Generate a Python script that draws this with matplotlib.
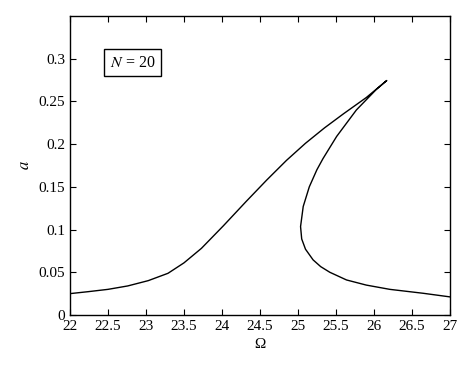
import matplotlib
matplotlib.use("Agg")
import matplotlib.pyplot as plt

omega = [22.0, 22.24, 22.5, 22.76, 23.03, 23.29, 23.5, 23.73, 24.02, 24.32, 24.59,
         24.85, 25.1, 25.35, 25.6, 25.9, 26.17,
         26.03, 25.77, 25.51, 25.33, 25.25, 25.15, 25.07, 25.035, 25.05, 25.1, 25.2,
         25.3, 25.42, 25.64, 25.9, 26.21, 26.65, 27.0]
amp = [0.025, 0.0273, 0.030, 0.034, 0.0402, 0.0488, 0.061, 0.078, 0.1045, 0.133, 0.158,
       0.181, 0.201, 0.219, 0.2355, 0.2545, 0.2745,
       0.2638, 0.240, 0.209, 0.183, 0.170, 0.150, 0.127, 0.1035, 0.089, 0.077, 0.0645,
       0.0566, 0.050, 0.041, 0.035, 0.030, 0.0254, 0.0212]

xticks = [22, 22.5, 23, 23.5, 24, 24.5, 25, 25.5, 26, 26.5, 27]
yticks = [0, 0.05, 0.1, 0.15, 0.2, 0.25, 0.3]

plt.rcParams['font.family'] = ['Liberation Serif', 'DejaVu Serif']
plt.rcParams['mathtext.fontset'] = 'stix'

fig = plt.figure(figsize=(4.74, 3.77), dpi=100)
ax = fig.add_axes([0.1477, 0.1645, 0.8013, 0.7931])
ax.plot(omega, amp, color='black', lw=1.0, solid_joinstyle='round')
ax.set_xlim(22, 27)
ax.set_ylim(0, 0.35)
ax.set_xticks(xticks)
ax.set_xticklabels([f"{t:g}" for t in xticks])
ax.set_yticks(yticks)
ax.set_yticklabels([f"{t:g}" for t in yticks])
ax.tick_params(direction='in', top=True, right=True, labelsize=11, length=4, width=0.8)
for s in ax.spines.values():
    s.set_linewidth(1.0)
ax.set_xlabel('Ω', fontsize=11)
ax.set_ylabel('$a$', fontsize=12, labelpad=4)
ax.text(0.105, 0.83, '$N$ = 20', transform=ax.transAxes, fontsize=11.5,
        bbox=dict(boxstyle='square,pad=0.35', facecolor='white', edgecolor='black', lw=1.0))
fig.savefig('out.png', dpi=100)
